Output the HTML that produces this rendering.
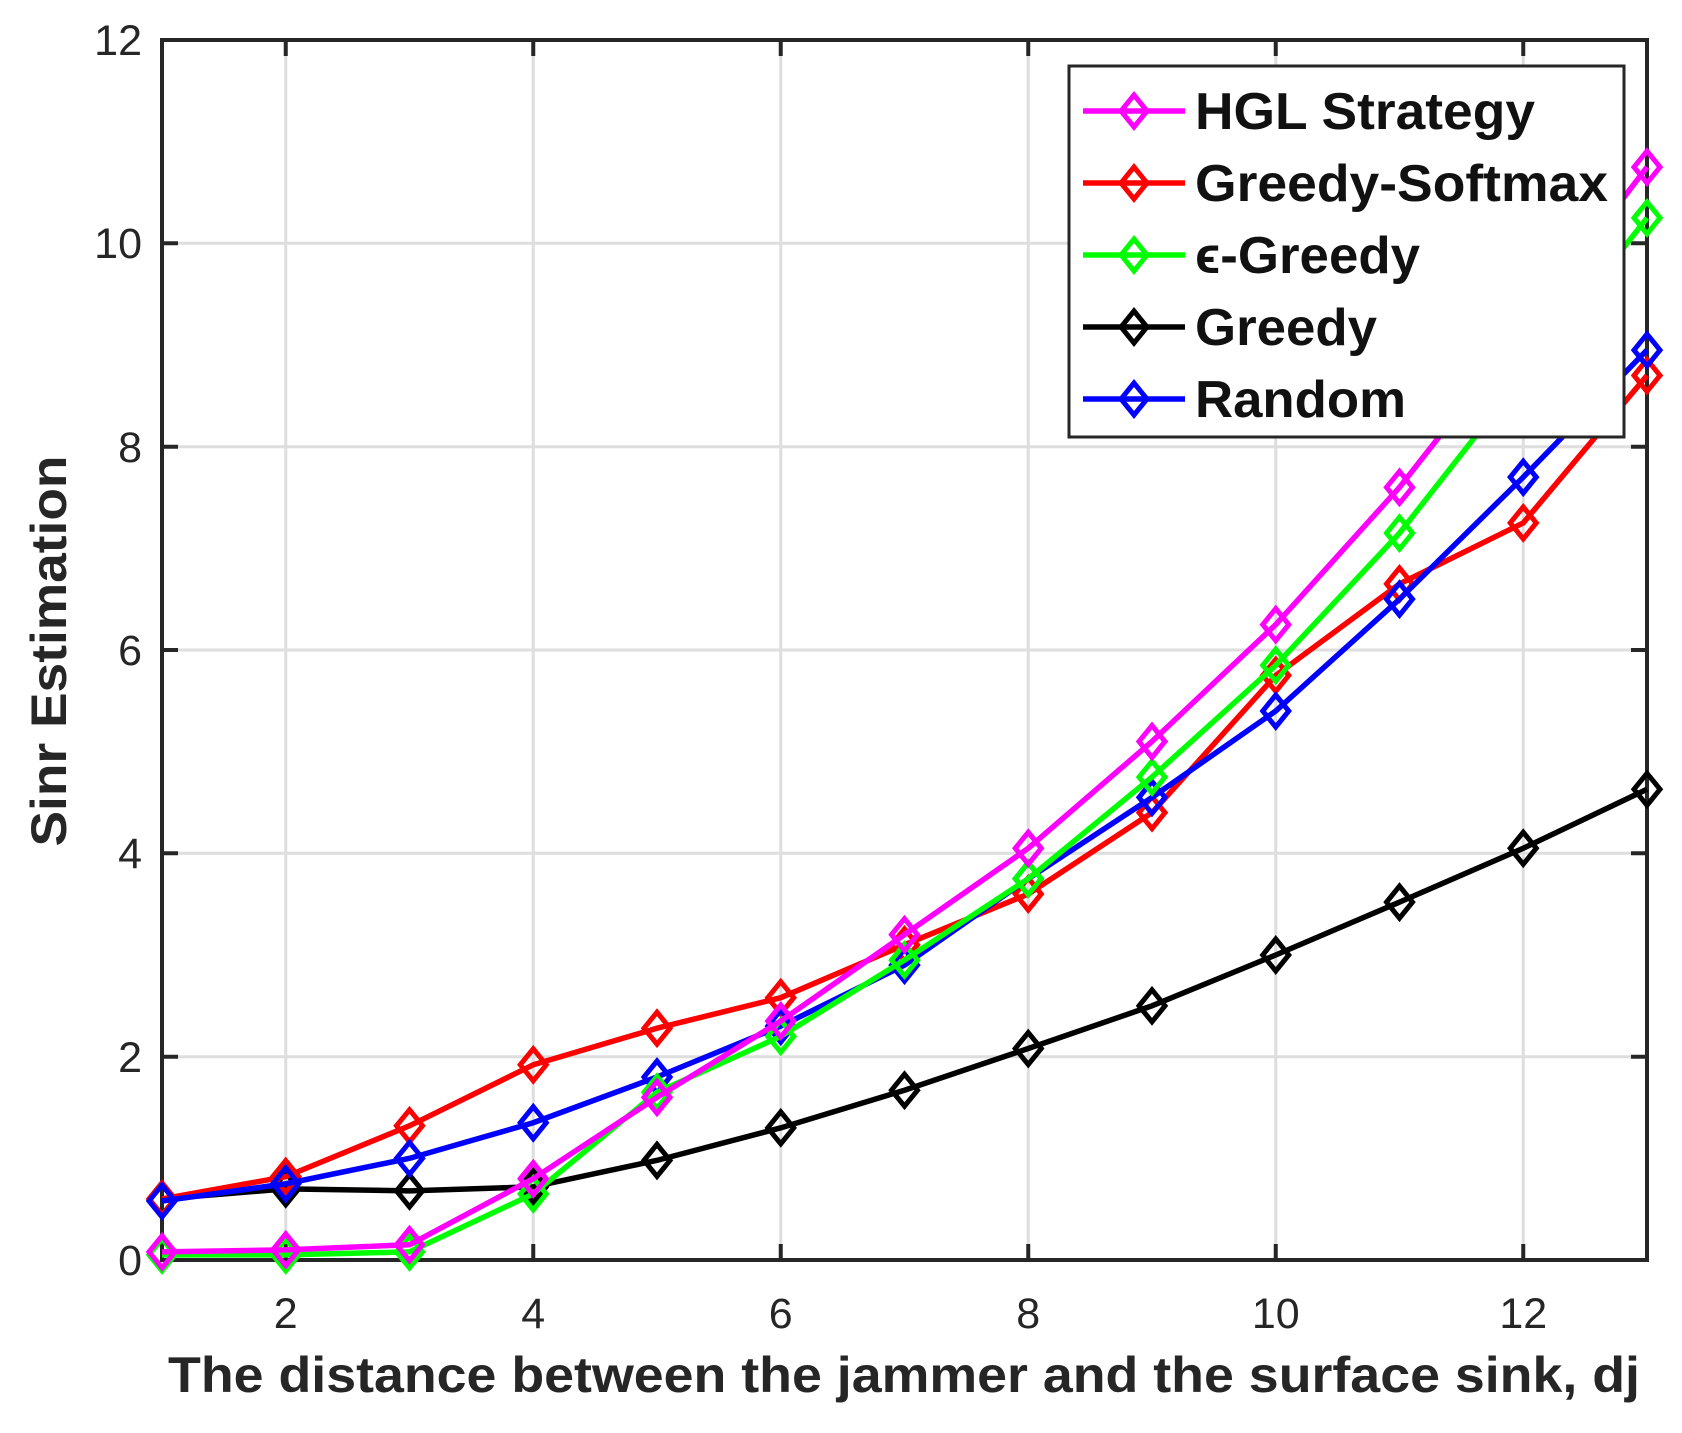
<!DOCTYPE html>
<html><head><style>body{margin:0;background:#fff}</style></head><body>
<svg width="1682" height="1428" xmlns="http://www.w3.org/2000/svg" font-family="Liberation Sans, sans-serif">
<rect width="1682" height="1428" fill="#fff"/>
<g id="grid" stroke="#dedede" stroke-width="3">
<line x1="285.75" y1="40" x2="285.75" y2="1260"/><line x1="533.25" y1="40" x2="533.25" y2="1260"/><line x1="780.75" y1="40" x2="780.75" y2="1260"/><line x1="1028.25" y1="40" x2="1028.25" y2="1260"/><line x1="1275.75" y1="40" x2="1275.75" y2="1260"/><line x1="1523.25" y1="40" x2="1523.25" y2="1260"/>
<line x1="162" y1="243.3" x2="1647" y2="243.3"/><line x1="162" y1="446.7" x2="1647" y2="446.7"/><line x1="162" y1="650" x2="1647" y2="650"/><line x1="162" y1="853.3" x2="1647" y2="853.3"/><line x1="162" y1="1056.7" x2="1647" y2="1056.7"/>
</g>
<g stroke="#262626" stroke-width="4" fill="none">
<rect x="162" y="40" width="1485" height="1220"/>
<path d="M285.75 1260v-16M533.25 1260v-16M780.75 1260v-16M1028.25 1260v-16M1275.75 1260v-16M1523.25 1260v-16M285.75 40v16M533.25 40v16M780.75 40v16M1028.25 40v16M1275.75 40v16M1523.25 40v16M162 243.3h16M162 446.7h16M162 650h16M162 853.3h16M162 1056.7h16M1647 243.3h-16M1647 446.7h-16M1647 650h-16M1647 853.3h-16M1647 1056.7h-16"/>
</g>
<g fill="#262626" font-size="43" text-anchor="end">
<text x="142" y="55">12</text><text x="142" y="258">10</text><text x="142" y="462">8</text><text x="142" y="665">6</text><text x="142" y="868">4</text><text x="142" y="1072">2</text><text x="142" y="1275">0</text>
</g>
<g fill="#262626" font-size="43" text-anchor="middle">
<text x="285.75" y="1328">2</text><text x="533.25" y="1328">4</text><text x="780.75" y="1328">6</text><text x="1028.25" y="1328">8</text><text x="1275.75" y="1328">10</text><text x="1523.25" y="1328">12</text>
</g>
<text x="168" y="1392" font-size="50" font-weight="bold" fill="#262626" textLength="1472" lengthAdjust="spacingAndGlyphs">The distance between the jammer and the surface sink, dj</text>
<text transform="translate(66,651) rotate(-90)" font-size="50" font-weight="bold" fill="#262626" text-anchor="middle" textLength="391" lengthAdjust="spacingAndGlyphs">Sinr Estimation</text>
<g id="series" fill="none" stroke-width="5.5"></g>
<rect x="1069" y="66" width="555" height="371" fill="#fff" stroke="#262626" stroke-width="3"/>
<g font-size="52" font-weight="bold" fill="#111" id="leg"></g>
<script>
var X=function(i){return 162+(i-1)*123.75},Y=function(v){return 1260-v*101.667};
var S=[["#000000",[0.6,0.7,0.68,0.72,0.98,1.3,1.67,2.08,2.5,3.0,3.52,4.05,4.63]],
["#ff0000",[0.6,0.82,1.32,1.92,2.28,2.58,3.1,3.6,4.4,5.75,6.65,7.25,8.7]],
["#0000ff",[0.58,0.75,1.0,1.35,1.8,2.3,2.9,3.75,4.55,5.4,6.5,7.7,8.95]],
["#00ff00",[0.05,0.05,0.08,0.65,1.65,2.2,2.95,3.75,4.75,5.85,7.15,8.7,10.25]],
["#ff00ff",[0.08,0.1,0.15,0.8,1.6,2.35,3.2,4.05,5.1,6.25,7.6,9.15,10.75]]];
var NS="http://www.w3.org/2000/svg",g=document.getElementById("series");
function el(p,t,a){var e=document.createElementNS(NS,t);for(var k in a)e.setAttribute(k,a[k]);p.appendChild(e);return e}
function dia(p,x,y,c){el(p,"path",{d:"M"+x+" "+(y-16)+"L"+(x+13)+" "+y+"L"+x+" "+(y+16)+"L"+(x-13)+" "+y+"Z",stroke:c,fill:"none","stroke-width":5})}
S.forEach(function(s){var d="";s[1].forEach(function(v,i){d+=(i?"L":"M")+X(i+1)+" "+Y(v)});el(g,"path",{d:d,stroke:s[0]});s[1].forEach(function(v,i){dia(g,X(i+1),Y(v),s[0])})});
var L=[["HGL Strategy","#ff00ff",340],["Greedy-Softmax","#ff0000",413],["\u03f5-Greedy","#00ff00",225],["Greedy","#000000",182],["Random","#0000ff",211]];
var lg=document.getElementById("leg");
L.forEach(function(l,i){var y=111+i*72;el(lg,"line",{x1:1083,y1:y,x2:1185,y2:y,stroke:l[1],"stroke-width":5.5});dia(lg,1134,y,l[1]);var t=el(lg,"text",{x:1195,y:y+18,textLength:l[2],lengthAdjust:"spacingAndGlyphs"});t.textContent=l[0]});
</script>
</svg>
</body></html>
